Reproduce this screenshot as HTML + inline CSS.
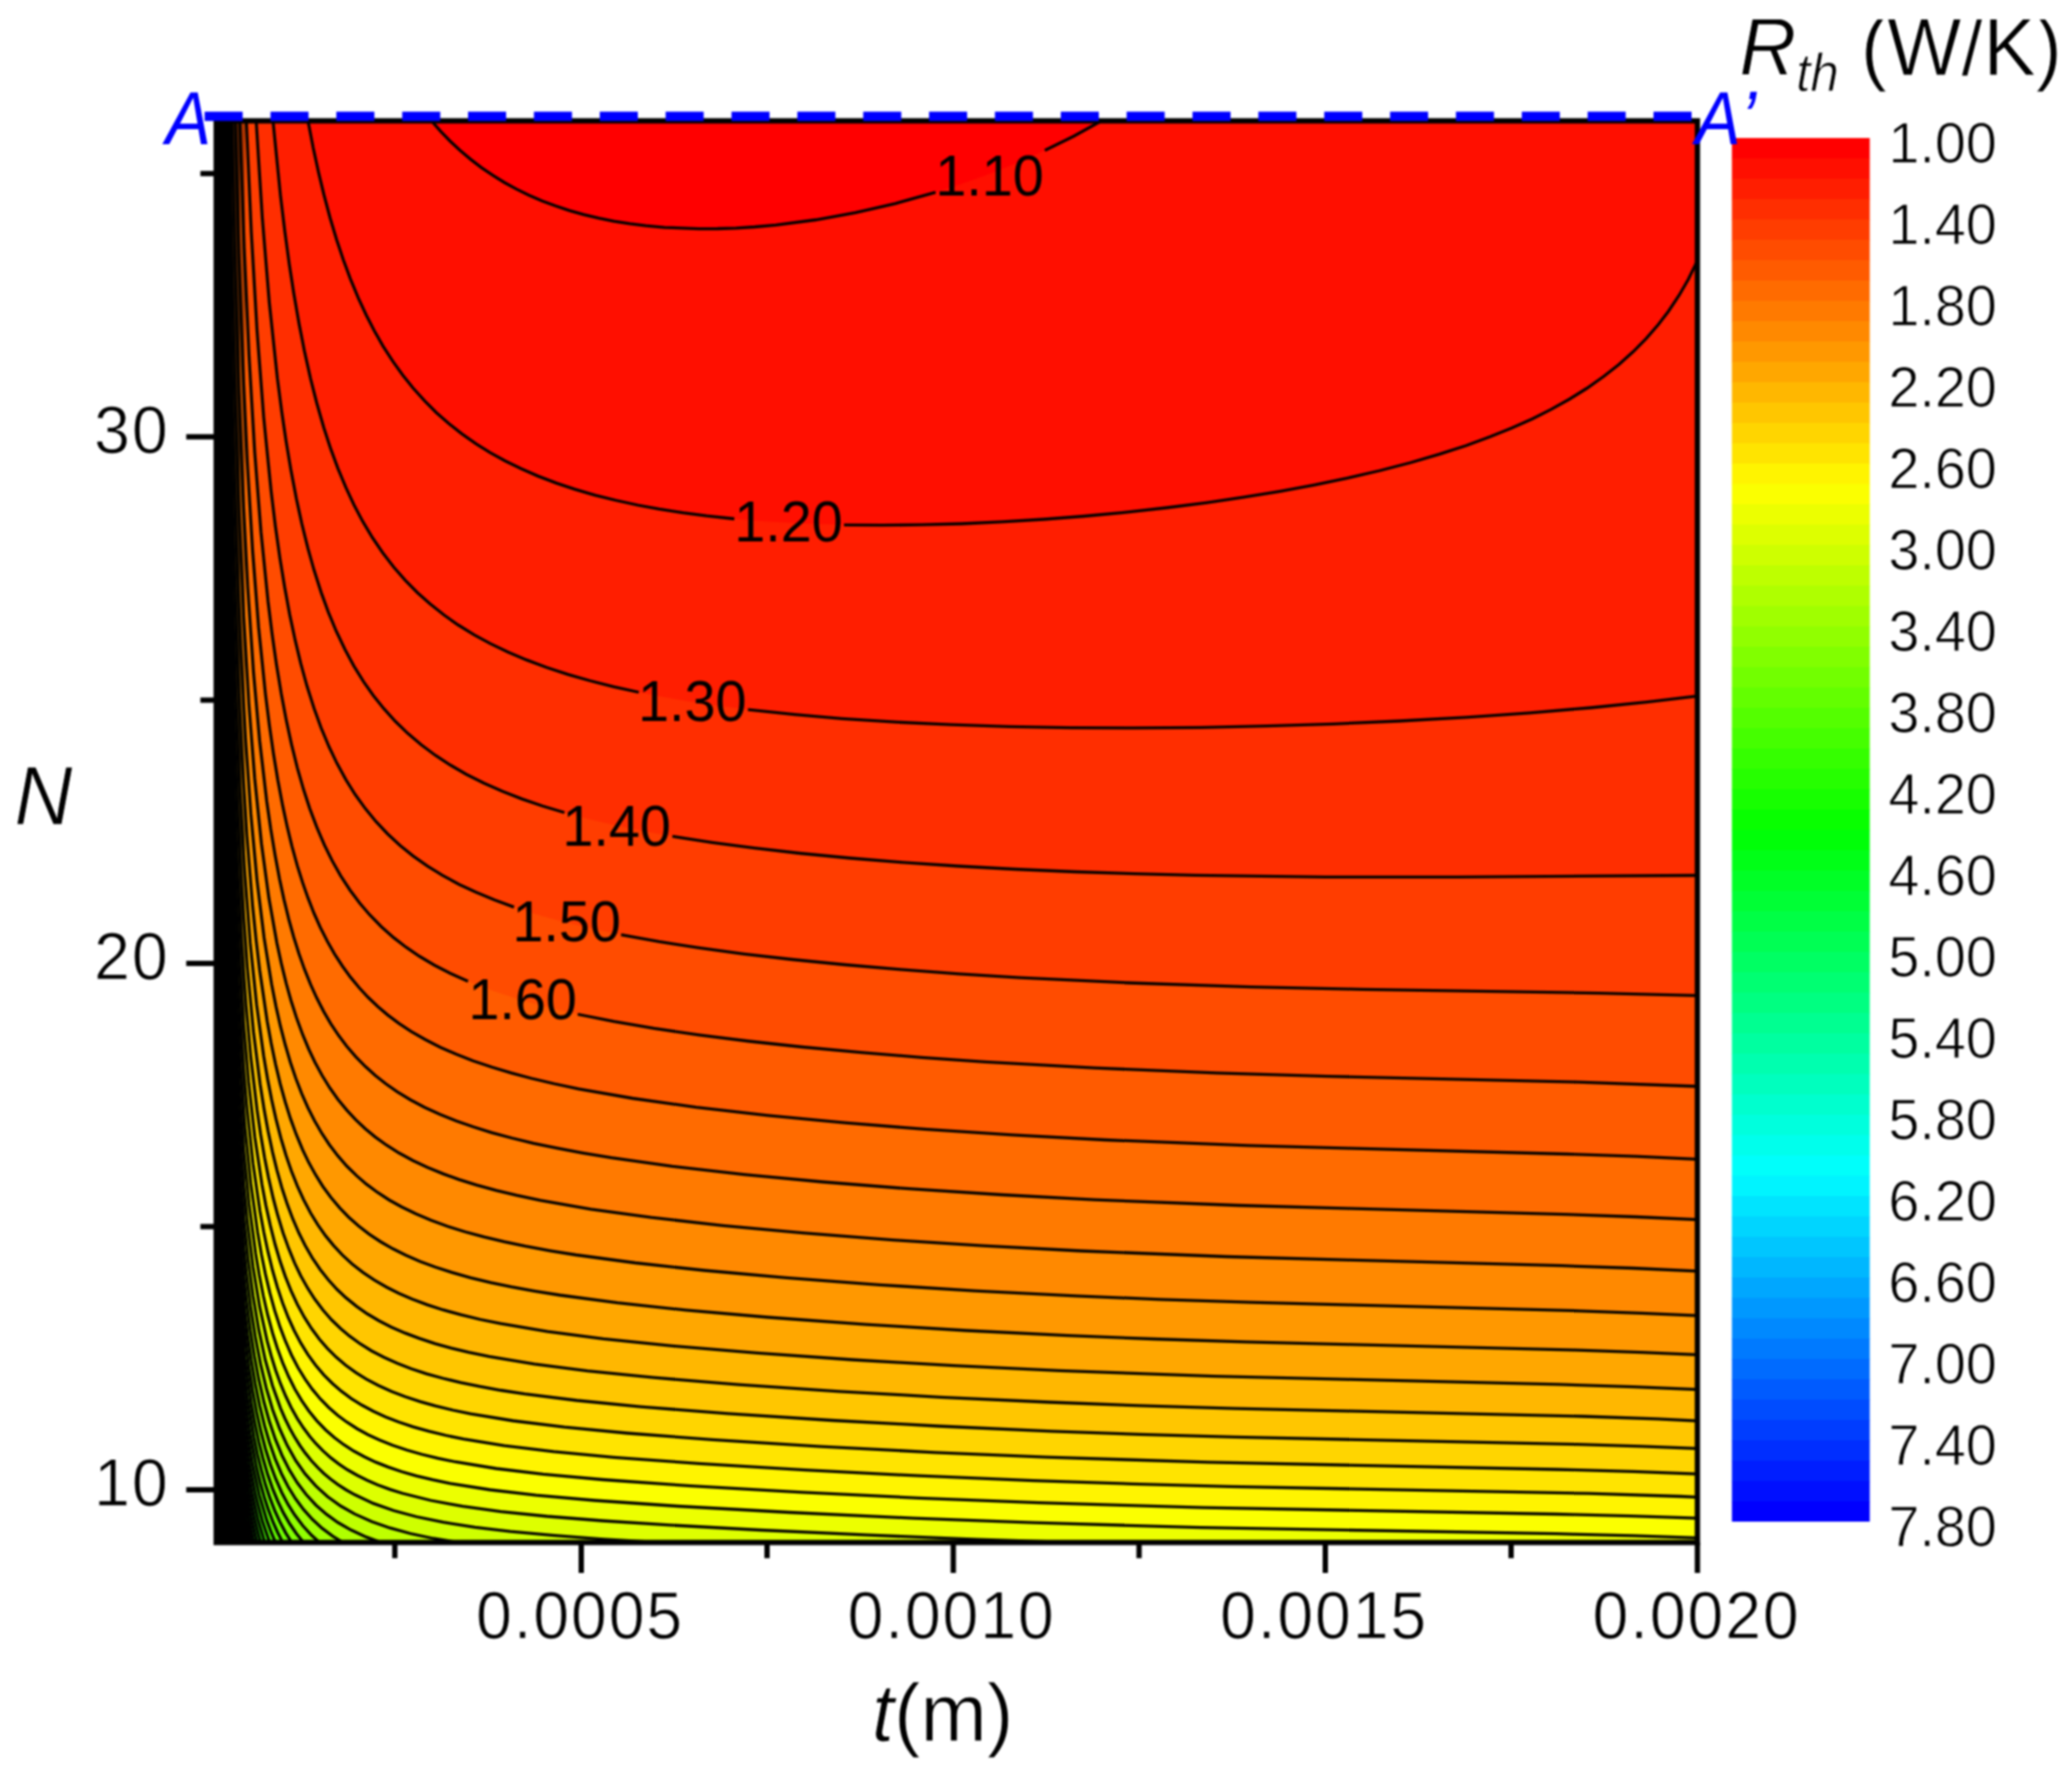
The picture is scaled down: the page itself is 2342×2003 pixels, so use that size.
<!DOCTYPE html>
<html><head><meta charset="utf-8"><title>Rth contour</title>
<style>html,body{margin:0;padding:0;background:#fff}svg{display:block;filter:blur(0.8px)}text{font-family:"Liberation Sans",sans-serif;fill:#000}.w{stroke:#fff;stroke-width:1px}</style></head><body>
<svg width="2342" height="2003" viewBox="0 0 2342 2003">
<defs><clipPath id="pc"><rect x="244.4" y="136.6" width="1674.2" height="1607"/></clipPath></defs>
<rect width="2342" height="2003" fill="#fff"/>
<g clip-path="url(#pc)">
<rect x="244" y="136" width="1674" height="1608" fill="#ff0000"/>
<path d="M244 136L487.1 136L501 151.6L515 165.4L529.4 178L545 190L561 200.8L578.6 211L596.5 220L615 228L634.3 235L655 241.3L677 246.7L699 250.9L721 254.1L745 256.6L769 258.1L796 258.6L823 258.2L853 256.5L880 254L910 250.3L937 246L967 240.4L997 233.7L1027.5 226L1057 217.5L1086.5 208L1114 198.2L1142.6 187L1170.4 175L1195.8 163L1222 149.5L1246.1 136L1918 136L1918 1744L244 1744L244 139Z" fill="#ff0f00"/>
<path d="M487.1 136L498 148.4L509 159.7L520 170L532 180.1L544 189.3L557 198.2L570 206.2L584 213.9L598 220.7L613 227.2L628 232.8L644 238.1L660 242.6L677 246.7L694 250.1L712 252.9L730 255.2L751 257.1L790 258.6L811 258.5L832 257.8L853 256.5L877 254.3L922 248.5L967 240.4L1012 230.1L1057.5 217.3" fill="none" stroke="#000" stroke-width="3.3"/>
<path d="M1181 170.1L1213.6 154L1246.1 136" fill="none" stroke="#000" stroke-width="3.3"/>
<path d="M244 136L348 136L355 171.8L362 203.2L369 231.2L377 259.6L385 284.8L394 310L403 332.3L413 354.3L424 375.6L434.7 394L446.4 412L459 429L472.4 445L486.6 460L502 474.3L517.5 487L531 496.9L545 506.1L560 515L576 523.6L592 531.2L609 538.5L627 545.4L646 551.8L666 557.8L686 563.1L706.9 568L730 572.7L754 576.9L778 580.5L829 586.4L871 589.8L913 592L958 593.3L1006 593.6L1054 593L1105 591.2L1156 588.6L1210 584.7L1262.9 580L1315 574.4L1365.1 568L1414 560.8L1460 553L1504 544.5L1546 535.2L1585 525.5L1618 516.2L1651 505.7L1681 495L1708 484.1L1734.8 472L1758.4 460L1780 447.6L1801 433.9L1819 420.8L1837 405.8L1855 388.7L1870 372.2L1883.6 355L1895.9 337L1908.2 316L1918 296.1L1918 1744L244 1744L244 139Z" fill="#ff1e00"/>
<path d="M348 136L354 167L360 194.6L366.1 220L373.3 247L380.5 271L388 293.5L396 315.1L405 336.9L414 356.3L423 373.8L433 391.3L444 408.4L455 423.8L467 438.8L480 453.2L493 466.2L507 478.6L522 490.4L538 501.6L554 511.6L571 521L589 529.8L608 538.1L629 546.1L650 553.1L673 559.8L696 565.5L721 571L745 575.4L772 579.7L799 583.2L830 586.5" fill="none" stroke="#000" stroke-width="3.3"/>
<path d="M954 593.3L997 593.7L1042 593.2L1087 592L1132 589.9L1180 587L1225 583.5L1270 579.3L1318 574L1363 568.3L1405 562.2L1447 555.3L1486 548.1L1522 540.7L1559.5 532L1594.2 523L1627 513.4L1657 503.7L1684 493.8L1708.3 484L1732 473.4L1753 462.9L1774.3 451L1793.5 439L1813 425.3L1829.9 412L1846 397.6L1861 382.4L1874.3 367L1885.8 352L1897.8 334L1908.2 316L1918 296.1" fill="none" stroke="#000" stroke-width="3.3"/>
<path d="M244 136L308.5 136L317 220.8L326.5 295.2L337 360.3L343 391.5L349 419.2L355 444.1L362 469.9L369 492.9L377 516.3L385 537.1L394 557.9L403 576.4L413 594.6L421 607.8L429 619.8L438 632.2L447 643.4L457 654.8L467 665.2L478 675.7L489 685.1L500.2 694L513 703.1L526 711.6L539 719.3L553.2 727L568 734.3L599 747.5L620 755.2L643 762.7L666 769.3L692 775.9L718 781.7L745 787L775 792.2L808 797.2L874 805.3L949 812.1L1030 817.2L1117 820.7L1216 822.6L1318 822.7L1426 820.9L1534 817.2L1642 811.7L1741 804.9L1834 796.5L1918 786.8L1918 1744L244 1744L244 139Z" fill="#ff2e00"/>
<path d="M308.5 136L317 220.8L322 262.1L327 298.7L332 331.2L338 365.8L344 396.4L351 427.8L358 455.5L366 483.4L374 507.9L382 529.6L391 551.2L400 570.4L410 589.4L421 607.8L432.7 625L445 641L458 655.9L471.9 670L486 682.6L502 695.3L518 706.5L536 717.6L554 727.4L574 737L595 745.9L618 754.5L642 762.4L667 769.5L694 776.3L722 782.5" fill="none" stroke="#000" stroke-width="3.3"/>
<path d="M845.4 802.1L898 807.7L952 812.3L1012 816.2L1075 819.2L1141 821.3L1210 822.6L1282 822.9L1357 822.3L1432 820.7L1507 818.3L1582 815L1657 810.8L1729 805.8L1798 800L1861 793.6L1918 786.8" fill="none" stroke="#000" stroke-width="3.3"/>
<path d="M244 136L289.5 136L296 239.4L303.5 332.7L311.7 412L321 483.2L331 543.2L337 573.2L343 599.8L350 627.1L357 651.2L364 672.5L371.9 694L379 711L386 726.3L393 740.1L401 754.5L409 767.5L418 780.7L427 792.7L437 804.7L447 815.5L458 826.3L469 836.1L481 845.7L494 855.1L507 863.6L520 871.3L535 879.4L553 888L572 896.2L592.5 904L614 911.3L638 918.5L662 925L687.2 931L715 937L745 942.7L775 947.8L841 957.2L916 965.8L996.4 973L1082.6 979L1174 983.8L1270 987.4L1372 989.8L1471 991.1L1582 991.5L1918 989.5L1918 1744L244 1744L244 139Z" fill="#ff3d00"/>
<path d="M289.5 136L296.5 246.4L304.5 343L313.5 427.4L318.5 465.8L323.4 499L329 532.2L335 563.6L341 591.3L348 619.7L355 644.6L363 669.6L371 691.6L380 713.3L390 734.3L400 752.8L411 770.6L422 786.2L434 801.2L447 815.5L461 829.1L476 841.8L492 853.7L509 864.8L527 875.2L547 885.3L568 894.5L590 903.1L613 911L638 918.5" fill="none" stroke="#000" stroke-width="3.3"/>
<path d="M760 945.3L805 952.3L853 958.7L904 964.5L961 970L1021 974.9L1082.6 979L1147 982.5L1216 985.5L1282 987.7L1351 989.4L1498 991.3L1648 991.3L1918 989.5" fill="none" stroke="#000" stroke-width="3.3"/>
<path d="M244 136L278.4 136L283.5 251.8L289.5 357.9L296.5 453.6L304 533.1L313 607L317.8 640L322.8 670L328 697.4L334 725.5L340 750.2L347 775.6L353 794.8L359 812.2L366 830.3L373 846.5L380.4 862L388.5 877L397 891.2L406 904.6L415 916.7L425 928.7L435.5 940L447 951L458.6 961L470.2 970L483.1 979L497 987.7L513.8 997L531 1005.5L549 1013.3L569 1021.1L590 1028.4L613 1035.4L637 1042L662 1048.1L689.3 1054L720.1 1060L784 1070.5L856 1080.1L937 1088.8L1018.8 1096L1108 1102.4L1204 1107.8L1303 1112.1L1387 1114.8L1477 1117.1L1795 1122.4L1918 1125.4L1918 1744L244 1744L244 139Z" fill="#ff4c00"/>
<path d="M278.4 136L284 261.7L290.5 373.1L298 471.1L306.5 555.7L311.3 595L316.4 631L321.8 664L327.5 694.9L333.7 724L340 750.2L347 775.6L355 800.8L363 822.8L372 844.3L381 863.1L391 881.3L401.4 898L413 914.1L425 928.7L438 942.5L452 955.5L467 967.6L483 978.9L500 989.4L519 999.7L538 1008.6L559 1017.3L581 1025.4" fill="none" stroke="#000" stroke-width="3.3"/>
<path d="M702 1056.6L745 1064.4L790 1071.4L841 1078.3L895 1084.5L955 1090.5L1018 1095.9L1084 1100.8L1153 1105.1L1276 1111L1414 1115.6L1540 1118.3L1807 1122.6L1918 1125.4" fill="none" stroke="#000" stroke-width="3.3"/>
<path d="M244 136L271.1 136L275.5 268L281 392.6L287 496.9L293.5 584.2L301 662.3L305.5 700.7L310 734.3L315 767L320 795.7L325.4 823L331 847.8L342 888.8L348 907.7L355 927.3L362 944.6L369 960L377 975.8L385 989.8L394 1003.8L403 1016.2L413 1028.6L423 1039.5L434 1050.3L445.1 1060L458 1070L471 1079L486 1088.1L503 1097.3L521 1105.8L540 1113.7L560 1121.1L582 1128.2L605 1134.8L629 1141L655.5 1147L685 1153L748 1163.8L820 1173.7L901 1182.9L988 1191L1078 1197.9L1174 1203.9L1273 1208.9L1351 1212L1435 1214.8L1777 1223.1L1852 1225.4L1918 1228L1918 1744L244 1744L244 139Z" fill="#ff5b00"/>
<path d="M271.1 136L276 280L281.5 402.4L287.9 511L295 601.4L303 680L307.5 716.2L312.5 751.2L317.9 784L323.5 813.7L329.5 841.4L336 867.6L343 892.1L350 913.6L358 934.9L366.6 955L375.5 973L385 989.8L395.5 1006L406.7 1021L418 1034.2L431 1047.5L445 1059.9L459 1070.7L474.2 1081L491 1091L509 1100.3L529 1109.3" fill="none" stroke="#000" stroke-width="3.3"/>
<path d="M653 1146.5L694 1154.7L739 1162.4L790 1169.8L846.9 1177L907 1183.5L973 1189.7L1042 1195.3L1114 1200.3L1237 1207.2L1375 1212.9L1501 1216.6L1783 1223.2L1918 1228" fill="none" stroke="#000" stroke-width="3.3"/>
<path d="M244 136L265.9 136L270 286.2L274.5 413.3L279.5 522.1L285.5 622.2L292.3 709L300 784.1L304.5 819.9L309 851.2L314 881.6L319.5 910.7L324.5 934L330 956.6L336 978.4L342 997.6L348 1014.7L355 1032.5L362 1048.2L370 1064L378 1078.1L387 1092L396 1104.4L406 1116.5L416 1127.3L427 1137.8L438 1147.1L451 1156.8L465 1166.1L481 1175.3L498 1183.9L516 1191.8L535 1199.2L556 1206.3L578 1212.9L600.9 1219L626.4 1225L654 1230.8L715 1241.5L787 1251.6L868 1260.9L955 1269.2L1045 1276.4L1144 1282.9L1249 1288.5L1411 1294.9L1771 1304.5L1849 1307.2L1918 1310.3L1918 1744L244 1744L244 139Z" fill="#ff6b00" stroke="#000" stroke-width="3.3"/>
<path d="M244 136L262.1 136L266 307L270 441.5L274.5 556.6L280 663.9L286.5 759.5L293.5 837.5L301.5 905.7L306 937L311 967L316 993.6L321 1016.8L326.4 1039L332 1059.2L338 1078.3L344 1095.2L351 1112.7L358 1128.1L366 1143.6L374 1157.3L383 1170.8L392 1182.7L402 1194.4L413 1205.6L424 1215.5L436 1225L449 1234.1L464 1243.2L480 1251.7L497 1259.5L515.6 1267L535 1273.8L556 1280.3L579 1286.5L603 1292.3L630 1297.9L659 1303.3L691 1308.6L760 1318.3L841 1327.6L930 1336L1027 1343.7L1132 1350.5L1237 1356.1L1399 1362.5L1768 1372.6L1849 1375.5L1918 1378.6L1918 1744L244 1744L244 139Z" fill="#ff7a00" stroke="#000" stroke-width="3.3"/>
<path d="M244 136L259.1 136L262.5 311.9L266 450.6L270.5 585.5L275.5 697.8L281.3 796L287.9 880L295.5 953.5L304 1015.6L313 1066.1L318 1089.2L323.5 1111.6L329 1131.2L335 1150L342 1169.2L349 1186L356.1 1201L364.3 1216L373 1230L382 1242.7L392 1254.9L402 1265.7L413 1276L424 1285.1L437 1294.5L451 1303.3L467 1312L483 1319.5L501 1326.9L519 1333.4L539 1339.6L561 1345.6L584 1351.1L611 1356.8L668 1366.8L736 1376.2L817 1385.3L907 1393.7L1009 1401.6L1111 1408.1L1222.3 1414L1387 1420.5L1765 1430.7L1846 1433.5L1918 1436.8L1918 1744L244 1744L244 139Z" fill="#ff8900" stroke="#000" stroke-width="3.3"/>
<path d="M244 136L256.8 136L260 329.1L263.5 484.4L267.5 617.6L272 730.8L277.5 834.7L283.5 919.9L290.5 995.1L298.5 1060L307 1112.5L312 1137.8L317 1160L322.5 1181.3L328.3 1201L334.4 1219L341 1236.1L348 1252L355.6 1267L364 1281.5L372.3 1294L382 1306.7L391.9 1318L403 1328.9L414 1338.4L426.9 1348L440 1356.5L454 1364.3L470 1372.1L487 1379.3L506 1386.2L526 1392.5L547 1398.2L570 1403.7L594 1408.7L622 1413.8L651 1418.5L718 1427.5L796 1436L889 1444.4L994 1452.3L1102 1459.1L1216 1464.9L1312 1468.8L1414 1472.2L1786 1481.8L1855 1484.3L1918 1487.2L1918 1744L244 1744L244 139Z" fill="#ff9800" stroke="#000" stroke-width="3.3"/>
<path d="M244 136L254.8 136L257.5 318.8L260.5 475.2L264 613.4L268.5 745.6L273.5 854.3L279 943.9L285.5 1024L289.5 1062.8L293.5 1096.5L302 1154.3L306.5 1179.1L311.5 1203.1L316.7 1225L322.5 1246L328.5 1264.9L334.7 1282L342 1299.5L349 1314.1L357 1328.5L365 1341.2L374 1353.5L384 1365.4L394 1375.7L405 1385.6L417 1394.9L430 1403.5L444 1411.6L459 1419.1L475 1426L492 1432.3L511 1438.4L532 1444.3L555 1449.8L578 1454.6L604 1459.3L633 1464L698 1472.7L775 1480.9L868 1489L979 1497.1L1092.9 1504L1207 1509.6L1303 1513.5L1408 1516.8L1783 1526.1L1855 1528.6L1918 1531.4L1918 1744L244 1744L244 139Z" fill="#ffa700" stroke="#000" stroke-width="3.3"/>
<path d="M244 136L253.3 136L256 345L259 513L262.5 658.9L266.5 783.2L271 888.1L276.5 984.1L282.8 1066L290 1135.4L298 1193.5L302.5 1219.9L307 1242.9L312 1265.2L317.5 1286.5L323.3 1306L329.5 1324L336 1340.4L343 1355.8L351 1371L359 1384.1L368 1396.9L377 1407.9L387 1418.6L398 1428.7L410 1438.1L423 1446.9L437 1455L450.9 1462L466 1468.5L483 1474.9L501 1480.7L521 1486.2L543 1491.5L566 1496.2L619 1505.1L682 1513.3L760 1521.4L856 1529.4L963.7 1537L1078 1543.7L1198 1549.4L1372 1555.7L1762 1564.9L1846 1567.6L1918 1570.6L1918 1744L244 1744L244 139Z" fill="#ffb700" stroke="#000" stroke-width="3.3"/>
<path d="M244 136L251.9 136L254.4 349L257 510.8L260 655L264 795.1L268.5 911.4L273.5 1007.3L279.5 1092.8L286.5 1166.5L294 1225.5L298.5 1253.9L303 1278.5L308 1302.1L313 1322.6L318.5 1342.2L324.5 1360.7L331 1378L338 1394.1L345 1408L353 1421.8L361.9 1435L371 1446.5L381 1457.5L391 1466.9L403 1476.6L415 1485L428 1492.7L442 1499.9L458 1506.9L474 1512.9L492 1518.8L510 1523.8L530 1528.6L553 1533.4L604 1541.9L664 1549.6L739 1557.2L835 1565.1L949 1572.8L1063 1579.3L1186 1585L1288 1588.9L1396 1592.1L1789 1601L1873 1603.8L1918 1606L1918 1744L244 1744L244 139Z" fill="#ffc600" stroke="#000" stroke-width="3.3"/>
<path d="M244 136L250.7 136L253.5 385.1L256.5 576.9L260.5 757L265 898.6L268.8 988L273 1063.9L278 1134.8L283.5 1195.3L290.6 1255L294.5 1281.7L299 1308.2L303.5 1331.1L308.7 1354L314 1374.1L320 1393.7L326.2 1411L333 1427.6L340 1442.2L348 1456.5L356 1468.8L365 1480.8L374.9 1492L385 1501.8L395 1510.2L407.1 1519L420 1527L434 1534.3L449 1541.1L465 1547.2L482 1552.8L500.7 1558L521 1562.9L542 1567.2L566 1571.5L593 1575.7L652 1583L724 1590.1L823 1597.9L940 1605.5L1060 1612L1189 1617.8L1288 1621.3L1396 1624.4L1783 1632.7L1855 1634.9L1918 1637.4L1918 1744L244 1744L244 139Z" fill="#ffd500" stroke="#000" stroke-width="3.3"/>
<path d="M244 136L249.8 136L252 362.9L255 578.1L258.5 754.1L263 911.6L266.6 1003L271 1090.1L275.5 1158.3L281 1222.9L288 1285.2L296.1 1339L300.5 1362.3L305.5 1385.2L311 1406.8L316.5 1425.4L322.5 1442.9L329 1459.2L336 1474.3L344 1489L352 1501.6L361 1513.8L370 1524.1L380 1534.1L390.5 1543L402 1551.4L414 1558.9L428 1566.3L442.9 1573L458 1578.8L475 1584.4L492 1589.2L512 1594L532 1598.1L580 1606L638 1613.2L709 1620L805 1627.3L928 1635.1L1057 1641.8L1183 1647.1L1366 1652.9L1759 1661L1846 1663.4L1918 1666.1L1918 1744L244 1744L244 139Z" fill="#ffe400" stroke="#000" stroke-width="3.3"/>
<path d="M244 136L248.9 136L251 367.8L254 598.3L257 760.7L261 915.2L264.5 1014.1L269 1110.1L273.5 1182.8L279 1250.8L286 1315.4L293.8 1369L298.2 1393L303 1415.5L308 1435.8L313.5 1455L319.5 1473L325.7 1489L332.5 1504L340 1518.2L348 1531.1L356.6 1543L366 1554.1L375.9 1564L386 1572.7L397 1580.8L409 1588.3L422 1595.3L436 1601.7L451 1607.5L467 1612.8L485 1617.9L504 1622.5L524 1626.6L570 1634.1L626 1640.9L694 1647.3L790 1654.4L910 1661.7L1039 1668.2L1168 1673.6L1279 1677.3L1390 1680.3L1795 1688.2L1900 1691.5L1918 1692.3L1918 1693L1918 1744L244 1744L244 139Z" fill="#fff400" stroke="#000" stroke-width="3.3"/>
<path d="M244 136L248.1 136L250.5 409.4L253 609.8L256 782.1L259.5 926.3L263 1032.5L267 1124.1L271.5 1202.2L277 1274.3L283.5 1337.7L291.2 1393L295.5 1418L300 1440.2L305 1461.4L310.5 1481.4L316.5 1499.9L322.6 1516L329.5 1531.7L336.9 1546L345 1559.2L353 1570.4L362 1581.2L371.6 1591L381.9 1600L392 1607.5L403.7 1615L416 1621.7L429 1627.8L444 1633.7L459.6 1639L477 1644L495 1648.3L515 1652.5L561 1660L614 1666.3L681 1672.5L781 1679.6L907 1686.9L1039 1693.3L1174 1698.6L1360 1704.1L1759 1711.5L1843 1713.6L1918 1716.2L1918 1744L244 1744L244 139Z" fill="#fbff00" stroke="#000" stroke-width="3.3"/>
<path d="M244 136L247.4 136L249.5 393.9L252 612.7L255 796L258 931L261.5 1045L265.5 1142.6L270 1224.8L275 1293.7L281.5 1360.4L289 1416.9L293 1441L297.7 1465L302.5 1486L308 1506.5L313.5 1524L319.5 1540.4L326 1555.6L333.2 1570L341 1583.2L349 1594.8L358 1605.8L368 1616.2L378 1625L388.6 1633L400 1640.3L412 1646.8L425 1652.9L439 1658.4L454 1663.5L471 1668.3L489 1672.7L509 1676.8L554 1684L606 1690.1L672 1696L766 1702.5L892 1709.5L1033 1716.1L1168 1721.2L1357 1726.6L1759 1733.7L1846 1735.9L1918 1738.3L1918 1744L244 1744L244 139Z" fill="#ecff00" stroke="#000" stroke-width="3.3"/>
<path d="M244 136L246.8 136L250.5 565.1L253 747.3L256 904.4L258.5 1002.7L261.5 1095L265 1178.3L269 1251.7L274 1321.6L279.5 1379.8L286 1431.9L293.5 1477.2L302 1515.9L306.5 1532.5L311.6 1549L317 1564L323 1578.3L329.1 1591L336 1603.3L343 1614.1L350 1623.5L357 1631.7L365 1639.9L374 1647.9L383 1654.8L393 1661.5L404 1667.8L415 1673.3L427 1678.5L441 1683.6L455 1688L486.9 1696L523 1702.7L566 1708.6L618.4 1714L681 1719L757 1723.9L859 1729.5L982 1735.2L1105 1740.1L1222.5 1744L244 1744L244 139Z" fill="#ddff00" stroke="#000" stroke-width="3.3"/>
<path d="M244 136L246.3 136L249.5 544.8L251.5 709.9L254 863.4L258 1036L260.5 1113.9L263.5 1189.2L267 1258.6L271 1320.8L275.5 1375.6L280.5 1423.4L286 1464.8L292.5 1503.2L299.8 1537L308 1566.3L317 1591.6L322 1603.2L327.5 1614.5L333 1624.5L339 1634L345 1642.4L351.9 1651L359 1658.7L366 1665.4L373.8 1672L382 1678.1L391.1 1684L401 1689.6L422 1699.4L445 1707.5L471 1714.5L501 1720.7L537 1726.3L577 1731.1L624 1735.4L682 1739.8L751.2 1744L244 1744L244 139Z" fill="#ceff00" stroke="#000" stroke-width="3.3"/>
<path d="M244 136L245.8 136L248.5 512.3L252 802.6L255 964.6L259 1114.1L264 1240.5L267 1296.7L270.6 1351L274.5 1398.7L278.5 1438.2L283.3 1477L288.5 1510.6L294.5 1541.9L301 1569.2L308 1593L316 1614.8L324.5 1633.6L334.3 1651L345 1666.1L357 1679.7L370 1691.5L385 1702.3L401 1711.4L420.3 1720L441 1727.2L464 1733.5L490 1739L520.4 1744L244 1744L244 139Z" fill="#beff00" stroke="#000" stroke-width="3.3"/>
<path d="M244 136L245.3 136L247.5 465.5L250.5 753.7L253 914.5L256 1053.6L260 1184.6L265 1297.3L271 1389.8L274.5 1430.4L278.5 1468.6L283 1503.7L287.5 1532.5L292.5 1559.2L298.4 1585L304.5 1606.9L311.3 1627L318.7 1645L327 1661.4L336 1676.1L346 1689.3L357 1701.2L369 1711.7L382 1721L397 1729.6L414 1737.4L432.2 1744L244 1744L244 139Z" fill="#afff00" stroke="#000" stroke-width="3.3"/>
<path d="M244 136L244.9 136L247 468.8L249.5 729.1L252 906.2L254.5 1034.8L258 1165.3L262 1271.2L267 1365L273 1444.1L276.5 1479.3L280 1508.9L284 1537.3L288.5 1564.1L293.5 1588.8L299 1611.4L304.5 1630.3L311 1648.9L318 1665.5L325.5 1680.3L334 1694.1L343 1706.2L353 1717.3L364 1727.4L376 1736.3L388.4 1744L244 1744L244 139Z" fill="#a0ff00" stroke="#000" stroke-width="3.3"/>
<path d="M244 136L244.5 136L246.5 466.2L248.5 693.9L250.5 857.3L253 1006L256 1136.2L259.5 1245.2L263.5 1335.8L268.5 1417.5L274.5 1487.5L281.5 1545.7L285.5 1571.5L290 1595.8L294.9 1618L300 1637.5L305.5 1655.1L311.8 1672L318.4 1687L325.5 1700.4L333 1712.3L342 1724.3L351.8 1735L361.7 1744L244 1744L244 139Z" fill="#91ff00" stroke="#000" stroke-width="3.3"/>
<path d="M244 136L247.5 646.2L249.5 831L251.5 967.3L254.5 1114L257.5 1222.8L261 1315L265.5 1401.3L271 1476.7L277 1535.7L284 1585.7L288 1608.2L292.5 1629.6L297.1 1648L302.5 1666.6L308 1682.4L314 1697L320.5 1710.4L327.5 1722.5L335 1733.5L343.5 1744L244 1744L244 139Z" fill="#81ff00" stroke="#000" stroke-width="3.3"/>
<path d="M244 163L247 643.3L249 837.5L251 979.1L253.5 1110.1L256.5 1224.9L259.6 1312L263.5 1395.2L268 1465.3L273.5 1528.1L279.6 1579L287 1624.3L291 1643.6L295.5 1662.2L300 1678.1L305 1693.2L310.5 1707.4L316.5 1720.6L323 1732.8L330.1 1744L244 1744L244 166Z" fill="#72ff00" stroke="#000" stroke-width="3.3"/>
<path d="M244 232L247 694L250.5 988.3L253 1123.5L255.5 1223.9L258.5 1314.8L262 1394.4L266 1462.5L271 1525.8L276.5 1577.3L282.8 1621L290 1658.7L294 1675.5L298.5 1691.7L303 1705.6L308.4 1720L313.7 1732L319.8 1744L244 1744L244 235Z" fill="#63ff00" stroke="#000" stroke-width="3.3"/>
<path d="M244 295L246.5 685L250 994.7L252 1110.3L254.5 1219.4L257.5 1316.7L260.5 1390.2L264 1456.1L268.5 1519.9L273.5 1572.7L279 1616.6L285.5 1655.7L293 1689.6L301.5 1718.4L306.5 1732L311.6 1744L244 1744L244 298Z" fill="#54ff00" stroke="#000" stroke-width="3.3"/>
<path d="M244 352L246.5 731.4L249.5 998.5L251.5 1118.6L254 1231L256.5 1316L259.5 1394.1L263 1463.2L267 1523.1L271.5 1574.4L276.5 1617.9L282.4 1657L288.9 1690L296.5 1719.2L305 1744L244 1744L244 355Z" fill="#45ff00" stroke="#000" stroke-width="3.3"/>
<path d="M244 409L246.5 775.1L249.5 1034.5L253.5 1241L256 1328.1L258.5 1395.8L261.5 1459.6L265.1 1519L269.4 1573L274 1616.7L279 1654L285 1688.4L291.5 1717.2L299.4 1744L244 1744L244 412Z" fill="#35ff00" stroke="#000" stroke-width="3.3"/>
<path d="M244 460L246 759.5L249 1034.6L252.5 1228.2L255 1322.8L257.5 1395.4L260.5 1462.9L263.5 1515.8L267.2 1567L271.5 1612.9L276.1 1651L281.5 1686.1L287.7 1717L294.7 1744L244 1744L244 463Z" fill="#26ff00" stroke="#000" stroke-width="3.3"/>
<path d="M244 508L246 800.1L249 1067.6L252.5 1256.1L257 1406L259.5 1464.5L262.5 1520.2L266 1571.1L270 1616.4L274.2 1654L279 1687.3L284.5 1717.5L290.7 1744L244 1744L244 511Z" fill="#17ff00" stroke="#000" stroke-width="3.3"/>
<path d="M244 556L246 838.5L248.5 1064.3L252 1261.2L256 1401.8L258.5 1464.3L261.5 1523.2L264.5 1569.7L268 1612.9L272 1651.9L276.5 1686.6L281.5 1717L287.1 1744L244 1744L244 559Z" fill="#08ff00" stroke="#000" stroke-width="3.3"/>
<path d="M244 601L246 875L248.5 1094.9L251.5 1264.7L255.5 1409.8L260.5 1524.7L263.5 1573.6L266.5 1612.9L270.1 1651L274.4 1687L279 1717.3L284.1 1744L244 1744L244 604Z" fill="#00ff08" stroke="#000" stroke-width="3.3"/>
<path d="M244 643L246 909.6L248.5 1124L251.5 1289.6L255 1416.8L259.5 1524.7L262.5 1576.3L265.5 1617.4L269 1655.9L272.5 1687L276.7 1717L281.3 1744L244 1744L244 646Z" fill="#00ff17" stroke="#000" stroke-width="3.3"/>
<path d="M244 682L246 942.5L248 1116.8L251 1290.9L254.5 1422.6L259 1533.2L264 1614.4L267 1650.6L270.5 1684.8L274.5 1716.2L278.9 1744L244 1744L244 685Z" fill="#00ff26" stroke="#000" stroke-width="3.3"/>
<path d="M244 718L246 973.9L248 1144L250.5 1290.6L254 1427.4L258 1530.5L263 1616.5L269 1685.3L272.5 1715L276.7 1744L244 1744L244 721Z" fill="#00ff35" stroke="#000" stroke-width="3.3"/>
<path d="M244 754L246 1003.8L248 1170L250.5 1313.2L253.5 1431L257.5 1537.1L262 1617.5L267.7 1687L271 1716.3L274.8 1744L244 1744L244 757Z" fill="#00ff45" stroke="#000" stroke-width="3.3"/>
<path d="M244 790L245.5 981L247.5 1159.5L250 1310.8L253 1433.6L256.5 1531.6L261 1617.4L266.5 1687.9L269.5 1716.5L273 1744L244 1744L244 793Z" fill="#00ff54" stroke="#000" stroke-width="3.3"/>
<path d="M244 823L245.5 1009.4L247.5 1184L250 1332L253 1452.2L256.5 1548L260.5 1624.2L265.5 1690.3L271.4 1744L244 1744L244 826Z" fill="#00ff63" stroke="#000" stroke-width="3.3"/>
<path d="M244 853L245.5 1036.7L247.5 1207.4L250 1352.2L252.5 1453.2L255.5 1540.4L259.5 1622L264.1 1687L269.9 1744L244 1744L244 856Z" fill="#00ff72" stroke="#000" stroke-width="3.3"/>
<path d="M244 883L245.5 1062.7L247.5 1229.9L249.5 1347.5L252 1453.3L255 1543.5L259 1627.4L263.5 1692.6L268.5 1744L244 1744L244 886Z" fill="#00ff81" stroke="#000" stroke-width="3.3"/>
<path d="M244 913L245.5 1087.7L247.5 1251.4L249.5 1366.6L252 1470.2L255 1558.7L258.5 1632.2L262.5 1692.4L267.3 1744L244 1744L244 916Z" fill="#00ff91" stroke="#000" stroke-width="3.3"/>
<path d="M244 940L247 1237.4L249 1360L251.5 1468.8L254.5 1560.7L257.5 1627.1L261.5 1691.2L266.1 1744L244 1744L244 943Z" fill="#00ffa0" stroke="#000" stroke-width="3.3"/>
<path d="M244 967L247 1258L249 1378.1L251.5 1484.8L254 1562L257 1630.4L260.5 1689.1L265 1744L244 1744L244 970Z" fill="#00ffaf" stroke="#000" stroke-width="3.3"/>
<path d="M244 991L247 1277.7L249 1395.6L251 1482.1L253.5 1562.5L256.5 1633.2L260 1693.4L264 1744L244 1744L244 994Z" fill="#00ffbe" stroke="#000" stroke-width="3.3"/>
<path d="M244 1015L247 1296.7L250.5 1478.2L253 1562.2L256 1635.4L259.4 1696L263.1 1744L244 1744L244 1018Z" fill="#00ffce" stroke="#000" stroke-width="3.3"/>
<path d="M244 1039L247 1315L250.5 1493.1L253 1575.6L255.5 1637L258.5 1692.7L262.2 1744L244 1744L244 1042Z" fill="#00ffdd" stroke="#000" stroke-width="3.3"/>
<path d="M244 1063L247 1332.6L250.5 1507.5L252.5 1574.3L255 1638L258 1695.4L261.4 1744L244 1744L244 1066Z" fill="#00ffec" stroke="#000" stroke-width="3.3"/>
<path d="M244 1084L246.5 1315.7L250 1502.1L252 1572.1L254.5 1638.4L257.5 1697.7L260.6 1744L244 1744L244 1087Z" fill="#00fffb" stroke="#000" stroke-width="3.3"/>
<path d="M244 1105L246.5 1332.7L250 1515.8L252 1584.6L254.5 1649.8L257 1699.5L259.9 1744L244 1744L244 1108Z" fill="#00f4ff" stroke="#000" stroke-width="3.3"/>
<path d="M244 1126L246.5 1349.1L249.5 1509.1L253.5 1637.3L256 1691.5L259.2 1744L244 1744L244 1129Z" fill="#00e4ff" stroke="#000" stroke-width="3.3"/>
<path d="M244 1147L246.5 1365L249.5 1522.2L253.5 1648.3L256 1701.6L258.6 1744L244 1744L244 1150Z" fill="#00d5ff" stroke="#000" stroke-width="3.3"/>
<path d="M244 1165L246.5 1380.3L249.5 1534.9L253 1646.6L255.5 1701.9L258 1744L244 1744L244 1168Z" fill="#00c6ff" stroke="#000" stroke-width="3.3"/>
<path d="M244 1183L246 1360.9L249 1526.7L252.5 1644.2L255 1701.7L257.4 1744L244 1744L244 1186Z" fill="#00b7ff" stroke="#000" stroke-width="3.3"/>
<path d="M244 1201L246 1375.8L249 1538.9L252.5 1654.6L256.8 1744L244 1744L244 1204Z" fill="#00a7ff" stroke="#000" stroke-width="3.3"/>
<path d="M244 1219L246 1390.2L249 1550.8L252.4 1663L256.3 1744L244 1744L244 1222Z" fill="#0098ff" stroke="#000" stroke-width="3.3"/>
<path d="M244 1234L246 1404.1L248.5 1541.1L251.5 1648L255.8 1744L244 1744L244 1237Z" fill="#0089ff" stroke="#000" stroke-width="3.3"/>
<path d="M244 1252L246 1417.7L248.5 1552.5L251.5 1657.2L255.3 1744L244 1744L244 1255Z" fill="#007aff" stroke="#000" stroke-width="3.3"/>
<path d="M244 1267L246 1430.8L248.5 1563.6L251.5 1666.7L254.9 1744L244 1744L244 1270Z" fill="#006bff" stroke="#000" stroke-width="3.3"/>
<path d="M244 1282L246 1443.5L248 1552.5L251 1661.8L254.5 1744L244 1744L244 1285Z" fill="#005bff" stroke="#000" stroke-width="3.3"/>
<path d="M244 1297L246 1455.8L248 1563.3L250.5 1656.1L254.1 1744L244 1744L244 1300Z" fill="#004cff" stroke="#000" stroke-width="3.3"/>
<path d="M244 1312L246 1467.8L248 1573.7L250.5 1665.2L253.7 1744L244 1744L244 1315Z" fill="#003dff" stroke="#000" stroke-width="3.3"/>
<path d="M244 1324L246 1479.5L248 1583.9L250.5 1674.1L253.3 1744L244 1744L244 1327Z" fill="#002eff" stroke="#000" stroke-width="3.3"/>
<path d="M244 1339L247.5 1571.4L250 1667.4L252.9 1744L244 1744L244 1342Z" fill="#001eff" stroke="#000" stroke-width="3.3"/>
<path d="M244 1351L245.5 1469.8L247.5 1581.2L250 1676L252.6 1744L244 1744L244 1354Z" fill="#000fff" stroke="#000" stroke-width="3.3"/>
<path d="M244 1363L245.5 1480.9L247.5 1590.9L249.5 1668.4L252.3 1744L244 1744L244 1366Z" fill="#0000ff" stroke="#000" stroke-width="3.3"/>
<path d="M244 1375L245.5 1491.8L247.5 1600.2L249.5 1676.7L251.9 1744L244 1744L244 1378Z" fill="#000" stroke="#000" stroke-width="3.3"/>
</g>
<path d="M244 136L262 136L262 700L268 1330L277 1500L277 1744L244 1744Z" fill="#000"/>
<path d="M262 136L271 136L271 700L277 1330L277 1500L268 1330L262 700Z" fill="#000" fill-opacity="0.65"/>
<path d="M271 136L277 136L277 1330L271 700Z" fill="#000" fill-opacity="0.3"/>
<text transform="translate(1179.9,220.5) scale(1,1.04)" font-size="63" text-anchor="end">1.10</text>
<text transform="translate(952.5,611.6) scale(1,1.04)" font-size="63" text-anchor="end">1.20</text>
<text transform="translate(843.9,815) scale(1,1.04)" font-size="63" text-anchor="end">1.30</text>
<text transform="translate(758.3,955.6) scale(1,1.04)" font-size="63" text-anchor="end">1.40</text>
<text transform="translate(701.8,1064) scale(1,1.04)" font-size="63" text-anchor="end">1.50</text>
<text transform="translate(652,1151.7) scale(1,1.04)" font-size="63" text-anchor="end">1.60</text>
<rect x="244.4" y="136.6" width="1674.2" height="1607" fill="none" stroke="#000" stroke-width="6"/>
<line x1="657" y1="1743.6" x2="657" y2="1778" stroke="#000" stroke-width="6"/>
<line x1="1077.5" y1="1743.6" x2="1077.5" y2="1778" stroke="#000" stroke-width="6"/>
<line x1="1498" y1="1743.6" x2="1498" y2="1778" stroke="#000" stroke-width="6"/>
<line x1="1918.6" y1="1743.6" x2="1918.6" y2="1778" stroke="#000" stroke-width="6"/>
<line x1="446.3" y1="1743.6" x2="446.3" y2="1761.3" stroke="#000" stroke-width="6"/>
<line x1="867" y1="1743.6" x2="867" y2="1761.3" stroke="#000" stroke-width="6"/>
<line x1="1287.5" y1="1743.6" x2="1287.5" y2="1761.3" stroke="#000" stroke-width="6"/>
<line x1="1708" y1="1743.6" x2="1708" y2="1761.3" stroke="#000" stroke-width="6"/>
<line x1="210.5" y1="493.8" x2="244.4" y2="493.8" stroke="#000" stroke-width="6"/>
<line x1="210.5" y1="1088.9" x2="244.4" y2="1088.9" stroke="#000" stroke-width="6"/>
<line x1="210.5" y1="1684" x2="244.4" y2="1684" stroke="#000" stroke-width="6"/>
<line x1="226.5" y1="196.2" x2="244.4" y2="196.2" stroke="#000" stroke-width="6"/>
<line x1="226.5" y1="791.4" x2="244.4" y2="791.4" stroke="#000" stroke-width="6"/>
<line x1="226.5" y1="1386.5" x2="244.4" y2="1386.5" stroke="#000" stroke-width="6"/>
<text transform="translate(655.5,1852.2) scale(1,1.04)" font-size="73" text-anchor="middle" letter-spacing="2" class="w">0.0005</text>
<text transform="translate(1075.5,1852.2) scale(1,1.04)" font-size="73" text-anchor="middle" letter-spacing="2" class="w">0.0010</text>
<text transform="translate(1496.5,1852.2) scale(1,1.04)" font-size="73" text-anchor="middle" letter-spacing="2" class="w">0.0015</text>
<text transform="translate(1917.5,1852.2) scale(1,1.04)" font-size="73" text-anchor="middle" letter-spacing="2" class="w">0.0020</text>
<text transform="translate(191.5,512.1) scale(1,1.04)" font-size="73" text-anchor="end" letter-spacing="2" class="w">30</text>
<text transform="translate(191.5,1107.2) scale(1,1.04)" font-size="73" text-anchor="end" letter-spacing="2" class="w">20</text>
<text transform="translate(191.5,1702.3) scale(1,1.04)" font-size="73" text-anchor="end" letter-spacing="2" class="w">10</text>
<text transform="translate(16.3,931.5) scale(1,1.04)" font-size="91" text-anchor="start" font-style="italic" class="w">N</text>
<text transform="translate(985.5,1968) scale(1,1.04)" font-size="90" text-anchor="start" class="w"><tspan font-style="italic">t</tspan>(m)</text>
<rect x="1957.6" y="156" width="155.8" height="23.5" fill="#ff0000"/>
<rect x="1957.6" y="179" width="155.8" height="23.5" fill="#ff0f00"/>
<rect x="1957.6" y="202" width="155.8" height="23.5" fill="#ff1e00"/>
<rect x="1957.6" y="225" width="155.8" height="23.5" fill="#ff2e00"/>
<rect x="1957.6" y="248" width="155.8" height="23.5" fill="#ff3d00"/>
<rect x="1957.6" y="271" width="155.8" height="23.5" fill="#ff4c00"/>
<rect x="1957.6" y="294" width="155.8" height="23.5" fill="#ff5b00"/>
<rect x="1957.6" y="317" width="155.8" height="23.5" fill="#ff6b00"/>
<rect x="1957.6" y="340" width="155.8" height="23.5" fill="#ff7a00"/>
<rect x="1957.6" y="363" width="155.8" height="23.5" fill="#ff8900"/>
<rect x="1957.6" y="386" width="155.8" height="23.5" fill="#ff9800"/>
<rect x="1957.6" y="409" width="155.8" height="23.5" fill="#ffa700"/>
<rect x="1957.6" y="432" width="155.8" height="23.5" fill="#ffb700"/>
<rect x="1957.6" y="455" width="155.8" height="23.5" fill="#ffc600"/>
<rect x="1957.6" y="478" width="155.8" height="23.5" fill="#ffd500"/>
<rect x="1957.6" y="501" width="155.8" height="23.5" fill="#ffe400"/>
<rect x="1957.6" y="524" width="155.8" height="23.5" fill="#fff400"/>
<rect x="1957.6" y="547" width="155.8" height="23.5" fill="#fbff00"/>
<rect x="1957.6" y="570" width="155.8" height="23.5" fill="#ecff00"/>
<rect x="1957.6" y="593" width="155.8" height="23.5" fill="#ddff00"/>
<rect x="1957.6" y="616" width="155.8" height="23.5" fill="#ceff00"/>
<rect x="1957.6" y="639" width="155.8" height="23.5" fill="#beff00"/>
<rect x="1957.6" y="662" width="155.8" height="23.5" fill="#afff00"/>
<rect x="1957.6" y="685" width="155.8" height="23.5" fill="#a0ff00"/>
<rect x="1957.6" y="708" width="155.8" height="23.5" fill="#91ff00"/>
<rect x="1957.6" y="731" width="155.8" height="23.5" fill="#81ff00"/>
<rect x="1957.6" y="754" width="155.8" height="23.5" fill="#72ff00"/>
<rect x="1957.6" y="777" width="155.8" height="23.5" fill="#63ff00"/>
<rect x="1957.6" y="800" width="155.8" height="23.5" fill="#54ff00"/>
<rect x="1957.6" y="823" width="155.8" height="23.5" fill="#45ff00"/>
<rect x="1957.6" y="846" width="155.8" height="23.5" fill="#35ff00"/>
<rect x="1957.6" y="869" width="155.8" height="23.5" fill="#26ff00"/>
<rect x="1957.6" y="892" width="155.8" height="23.5" fill="#17ff00"/>
<rect x="1957.6" y="915" width="155.8" height="23.5" fill="#08ff00"/>
<rect x="1957.6" y="938" width="155.8" height="23.5" fill="#00ff08"/>
<rect x="1957.6" y="961" width="155.8" height="23.5" fill="#00ff17"/>
<rect x="1957.6" y="984" width="155.8" height="23.5" fill="#00ff26"/>
<rect x="1957.6" y="1007" width="155.8" height="23.5" fill="#00ff35"/>
<rect x="1957.6" y="1030" width="155.8" height="23.5" fill="#00ff45"/>
<rect x="1957.6" y="1053" width="155.8" height="23.5" fill="#00ff54"/>
<rect x="1957.6" y="1076" width="155.8" height="23.5" fill="#00ff63"/>
<rect x="1957.6" y="1099" width="155.8" height="23.5" fill="#00ff72"/>
<rect x="1957.6" y="1122" width="155.8" height="23.5" fill="#00ff81"/>
<rect x="1957.6" y="1145" width="155.8" height="23.5" fill="#00ff91"/>
<rect x="1957.6" y="1168" width="155.8" height="23.5" fill="#00ffa0"/>
<rect x="1957.6" y="1191" width="155.8" height="23.5" fill="#00ffaf"/>
<rect x="1957.6" y="1214" width="155.8" height="23.5" fill="#00ffbe"/>
<rect x="1957.6" y="1237" width="155.8" height="23.5" fill="#00ffce"/>
<rect x="1957.6" y="1260" width="155.8" height="23.5" fill="#00ffdd"/>
<rect x="1957.6" y="1283" width="155.8" height="23.5" fill="#00ffec"/>
<rect x="1957.6" y="1306" width="155.8" height="23.5" fill="#00fffb"/>
<rect x="1957.6" y="1329" width="155.8" height="23.5" fill="#00f4ff"/>
<rect x="1957.6" y="1352" width="155.8" height="23.5" fill="#00e4ff"/>
<rect x="1957.6" y="1375" width="155.8" height="23.5" fill="#00d5ff"/>
<rect x="1957.6" y="1398" width="155.8" height="23.5" fill="#00c6ff"/>
<rect x="1957.6" y="1421" width="155.8" height="23.5" fill="#00b7ff"/>
<rect x="1957.6" y="1444" width="155.8" height="23.5" fill="#00a7ff"/>
<rect x="1957.6" y="1467" width="155.8" height="23.5" fill="#0098ff"/>
<rect x="1957.6" y="1490" width="155.8" height="23.5" fill="#0089ff"/>
<rect x="1957.6" y="1513" width="155.8" height="23.5" fill="#007aff"/>
<rect x="1957.6" y="1536" width="155.8" height="23.5" fill="#006bff"/>
<rect x="1957.6" y="1559" width="155.8" height="23.5" fill="#005bff"/>
<rect x="1957.6" y="1582" width="155.8" height="23.5" fill="#004cff"/>
<rect x="1957.6" y="1605" width="155.8" height="23.5" fill="#003dff"/>
<rect x="1957.6" y="1628" width="155.8" height="23.5" fill="#002eff"/>
<rect x="1957.6" y="1651" width="155.8" height="23.5" fill="#001eff"/>
<rect x="1957.6" y="1674" width="155.8" height="23.5" fill="#000fff"/>
<rect x="1957.6" y="1697" width="155.8" height="23" fill="#0000ff"/>
<text transform="translate(2257,183.5) scale(1,1.04)" font-size="63" text-anchor="end" class="w">1.00</text>
<text transform="translate(2257,275.5) scale(1,1.04)" font-size="63" text-anchor="end" class="w">1.40</text>
<text transform="translate(2257,367.5) scale(1,1.04)" font-size="63" text-anchor="end" class="w">1.80</text>
<text transform="translate(2257,459.5) scale(1,1.04)" font-size="63" text-anchor="end" class="w">2.20</text>
<text transform="translate(2257,551.5) scale(1,1.04)" font-size="63" text-anchor="end" class="w">2.60</text>
<text transform="translate(2257,643.5) scale(1,1.04)" font-size="63" text-anchor="end" class="w">3.00</text>
<text transform="translate(2257,735.5) scale(1,1.04)" font-size="63" text-anchor="end" class="w">3.40</text>
<text transform="translate(2257,827.5) scale(1,1.04)" font-size="63" text-anchor="end" class="w">3.80</text>
<text transform="translate(2257,919.5) scale(1,1.04)" font-size="63" text-anchor="end" class="w">4.20</text>
<text transform="translate(2257,1011.5) scale(1,1.04)" font-size="63" text-anchor="end" class="w">4.60</text>
<text transform="translate(2257,1103.5) scale(1,1.04)" font-size="63" text-anchor="end" class="w">5.00</text>
<text transform="translate(2257,1195.5) scale(1,1.04)" font-size="63" text-anchor="end" class="w">5.40</text>
<text transform="translate(2257,1287.5) scale(1,1.04)" font-size="63" text-anchor="end" class="w">5.80</text>
<text transform="translate(2257,1379.5) scale(1,1.04)" font-size="63" text-anchor="end" class="w">6.20</text>
<text transform="translate(2257,1471.5) scale(1,1.04)" font-size="63" text-anchor="end" class="w">6.60</text>
<text transform="translate(2257,1563.5) scale(1,1.04)" font-size="63" text-anchor="end" class="w">7.00</text>
<text transform="translate(2257,1655.5) scale(1,1.04)" font-size="63" text-anchor="end" class="w">7.40</text>
<text transform="translate(2257,1747.5) scale(1,1.04)" font-size="63" text-anchor="end" class="w">7.80</text>
<clipPath id="tc"><rect x="1930" y="22" width="412" height="130"/></clipPath><g clip-path="url(#tc)">
<text transform="translate(1966,85.3) scale(1,1.04)" font-size="89" text-anchor="start" class="w"><tspan font-style="italic">R</tspan><tspan font-style="italic" font-size="58" dy="17">th</tspan><tspan dy="-17"> (W/K)</tspan></text>
</g>
<line x1="231.3" y1="131.5" x2="1914" y2="131.5" stroke="#0000ff" stroke-width="10.6" stroke-dasharray="43 31.44"/>
<text transform="translate(187.2,163) scale(1,1.1)" font-size="77" text-anchor="start" font-style="italic" style="fill:#0000ff">A</text>
<text transform="translate(1916.2,163) scale(1,1.1)" font-size="77" text-anchor="start" font-style="italic" letter-spacing="3" style="fill:#0000ff">A’</text>
</svg></body></html>
